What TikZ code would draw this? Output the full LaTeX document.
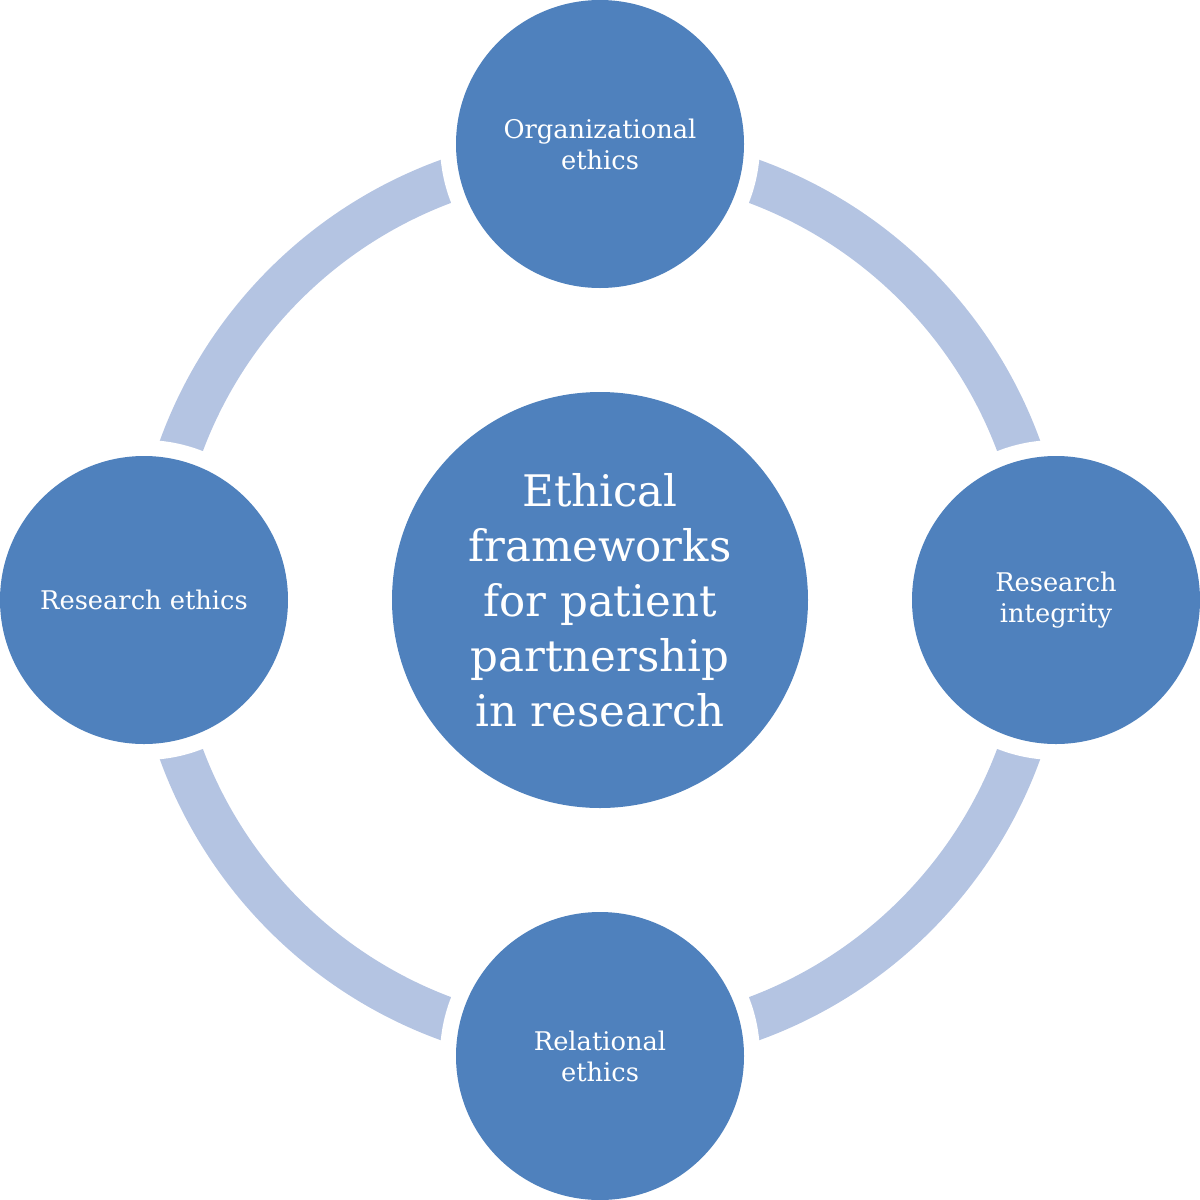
\documentclass[tikz,border=0pt]{standalone}
\usepackage{fontspec}
\setmainfont{DejaVu Serif}
\definecolor{nodeblue}{RGB}{79,129,189}
\definecolor{ringblue}{RGB}{180,196,226}
\begin{document}
\begin{tikzpicture}[x=1pt,y=-1pt,
  smallnode/.style={circle,fill=nodeblue,minimum size=288pt,inner sep=0pt,
    text=white,align=center,font=\fontsize{25.7}{31}\selectfont},
  bignode/.style={circle,fill=nodeblue,minimum size=416pt,inner sep=0pt,
    text=white,align=center,font=\fontsize{43.5}{55}\selectfont},
  halo/.style={fill=white}]
\useasboundingbox (0,0) rectangle (1200,1200);
\draw[ringblue,line width=44pt] (600,600) circle[radius=446];
\coordinate (ct) at (600,144);
\coordinate (cl) at (144,600);
\coordinate (cr) at (1056,600);
\coordinate (cb) at (600,1056);
\foreach \c in {ct,cl,cr,cb} \fill[halo] (\c) circle[radius=160];
\node[smallnode] (org) at (ct) {Organizational\\ethics};
\node[smallnode] (reseth) at (cl) {Research ethics};
\node[smallnode] (resint) at (cr) {Research\\integrity};
\node[smallnode] (rel) at (cb) {Relational\\ethics};
\node[bignode] (main) at (600,600) {Ethical\\frameworks\\for patient\\partnership\\in research};
\end{tikzpicture}
\end{document}
